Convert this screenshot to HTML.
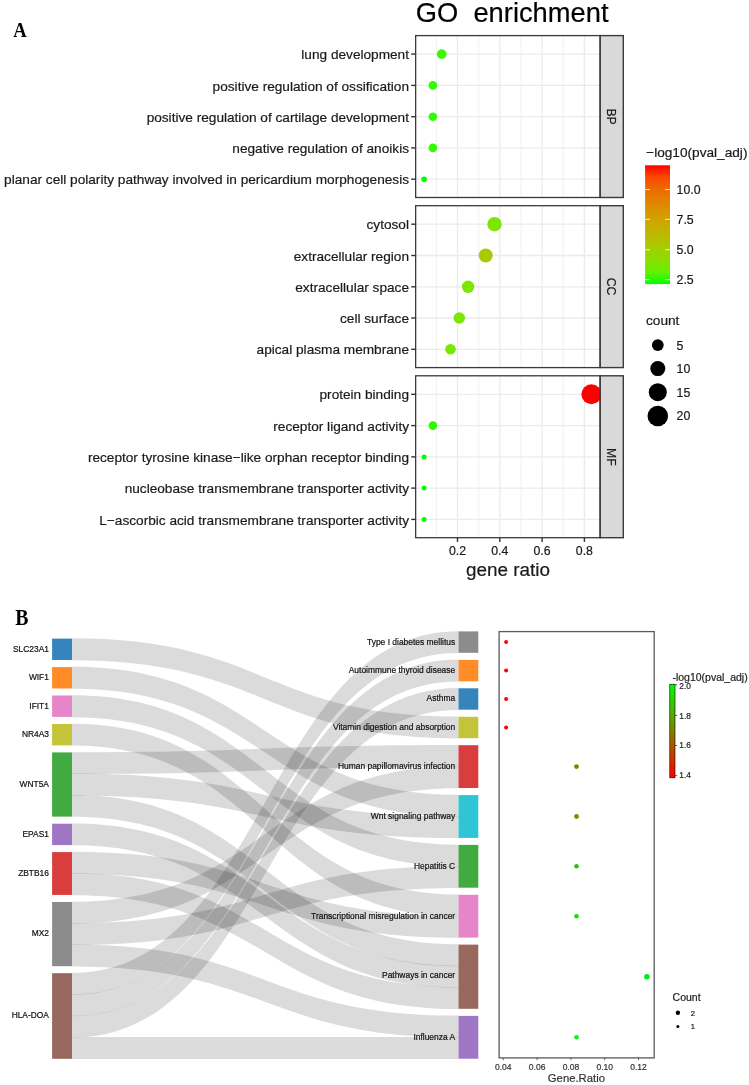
<!DOCTYPE html>
<html lang="en"><head><meta charset="utf-8"><title>GO enrichment</title>
<style>html,body{margin:0;padding:0;background:#fff}body{width:749px;height:1085px;overflow:hidden}svg{display:block}</style>
</head><body>
<svg width="749" height="1085" viewBox="0 0 749 1085" font-family='"Liberation Sans", Arial, sans-serif'>
<rect x="0" y="0" width="749" height="1085" fill="#ffffff"/>
<text transform="translate(20.0,36.8) scale(0.87,1)" text-anchor="middle" font-family='"Liberation Serif", "Times New Roman", serif' font-weight="bold" font-size="21.4" fill="#000" stroke="none">A</text>
<text transform="translate(21.9,624.7) scale(0.89,1)" text-anchor="middle" font-family='"Liberation Serif", "Times New Roman", serif' font-weight="bold" font-size="22.3" fill="#000" stroke="none">B</text>
<text x="415.8" y="22" font-size="27.3" fill="#000" xml:space="preserve" stroke="#000" stroke-width="0.2">GO  enrichment</text>
<g>
<rect x="415.65" y="35.6" width="184.5" height="161.9" fill="#fff"/>
<line x1="436.4" x2="436.4" y1="35.6" y2="197.5" stroke="#ebebeb" stroke-width="0.7"/>
<line x1="478.7" x2="478.7" y1="35.6" y2="197.5" stroke="#ebebeb" stroke-width="0.7"/>
<line x1="521.0" x2="521.0" y1="35.6" y2="197.5" stroke="#ebebeb" stroke-width="0.7"/>
<line x1="563.2" x2="563.2" y1="35.6" y2="197.5" stroke="#ebebeb" stroke-width="0.7"/>
<line x1="457.5" x2="457.5" y1="35.6" y2="197.5" stroke="#ebebeb" stroke-width="1.3"/>
<line x1="499.8" x2="499.8" y1="35.6" y2="197.5" stroke="#ebebeb" stroke-width="1.3"/>
<line x1="542.1" x2="542.1" y1="35.6" y2="197.5" stroke="#ebebeb" stroke-width="1.3"/>
<line x1="584.4" x2="584.4" y1="35.6" y2="197.5" stroke="#ebebeb" stroke-width="1.3"/>
<line x1="415.65" x2="600.1" y1="54.1" y2="54.1" stroke="#ebebeb" stroke-width="1.3"/>
<line x1="415.65" x2="600.1" y1="85.4" y2="85.4" stroke="#ebebeb" stroke-width="1.3"/>
<line x1="415.65" x2="600.1" y1="116.7" y2="116.7" stroke="#ebebeb" stroke-width="1.3"/>
<line x1="415.65" x2="600.1" y1="147.9" y2="147.9" stroke="#ebebeb" stroke-width="1.3"/>
<line x1="415.65" x2="600.1" y1="179.2" y2="179.2" stroke="#ebebeb" stroke-width="1.3"/>
<circle cx="441.7" cy="54.1" r="4.9" fill="#3cf900"/>
<line x1="411.2" x2="415.65" y1="54.1" y2="54.1" stroke="#333" stroke-width="1.4"/>
<text x="409.0" y="59.2" font-size="13.65" text-anchor="end" fill="#1a1a1a" stroke="#1a1a1a" stroke-width="0.2">lung development</text>
<circle cx="432.9" cy="85.4" r="4.3" fill="#33fb00"/>
<line x1="411.2" x2="415.65" y1="85.4" y2="85.4" stroke="#333" stroke-width="1.4"/>
<text x="409.0" y="90.5" font-size="13.65" text-anchor="end" fill="#1a1a1a" stroke="#1a1a1a" stroke-width="0.2">positive regulation of ossification</text>
<circle cx="432.9" cy="116.7" r="4.3" fill="#33fb00"/>
<line x1="411.2" x2="415.65" y1="116.7" y2="116.7" stroke="#333" stroke-width="1.4"/>
<text x="409.0" y="121.8" font-size="13.65" text-anchor="end" fill="#1a1a1a" stroke="#1a1a1a" stroke-width="0.2">positive regulation of cartilage development</text>
<circle cx="432.9" cy="147.9" r="4.3" fill="#33fb00"/>
<line x1="411.2" x2="415.65" y1="147.9" y2="147.9" stroke="#333" stroke-width="1.4"/>
<text x="409.0" y="153.0" font-size="13.65" text-anchor="end" fill="#1a1a1a" stroke="#1a1a1a" stroke-width="0.2">negative regulation of anoikis</text>
<circle cx="424.1" cy="179.2" r="2.8" fill="#00fd00"/>
<line x1="411.2" x2="415.65" y1="179.2" y2="179.2" stroke="#333" stroke-width="1.4"/>
<text x="409.0" y="184.3" font-size="13.65" text-anchor="end" fill="#1a1a1a" stroke="#1a1a1a" stroke-width="0.2">planar cell polarity pathway involved in pericardium morphogenesis</text>
<rect x="600.1" y="35.6" width="23.2" height="161.9" fill="#d9d9d9" stroke="#3a3a3a" stroke-width="1.4"/>
<rect x="415.65" y="35.6" width="184.5" height="161.9" fill="none" stroke="#3a3a3a" stroke-width="1.3"/>
<text transform="translate(607.2,116.6) rotate(90)" font-size="12.3" text-anchor="middle" fill="#1a1a1a" stroke="#1a1a1a" stroke-width="0.2">BP</text>
</g>
<g>
<rect x="415.65" y="205.7" width="184.5" height="161.9" fill="#fff"/>
<line x1="436.4" x2="436.4" y1="205.7" y2="367.6" stroke="#ebebeb" stroke-width="0.7"/>
<line x1="478.7" x2="478.7" y1="205.7" y2="367.6" stroke="#ebebeb" stroke-width="0.7"/>
<line x1="521.0" x2="521.0" y1="205.7" y2="367.6" stroke="#ebebeb" stroke-width="0.7"/>
<line x1="563.2" x2="563.2" y1="205.7" y2="367.6" stroke="#ebebeb" stroke-width="0.7"/>
<line x1="457.5" x2="457.5" y1="205.7" y2="367.6" stroke="#ebebeb" stroke-width="1.3"/>
<line x1="499.8" x2="499.8" y1="205.7" y2="367.6" stroke="#ebebeb" stroke-width="1.3"/>
<line x1="542.1" x2="542.1" y1="205.7" y2="367.6" stroke="#ebebeb" stroke-width="1.3"/>
<line x1="584.4" x2="584.4" y1="205.7" y2="367.6" stroke="#ebebeb" stroke-width="1.3"/>
<line x1="415.65" x2="600.1" y1="224.2" y2="224.2" stroke="#ebebeb" stroke-width="1.3"/>
<line x1="415.65" x2="600.1" y1="255.5" y2="255.5" stroke="#ebebeb" stroke-width="1.3"/>
<line x1="415.65" x2="600.1" y1="286.8" y2="286.8" stroke="#ebebeb" stroke-width="1.3"/>
<line x1="415.65" x2="600.1" y1="318.0" y2="318.0" stroke="#ebebeb" stroke-width="1.3"/>
<line x1="415.65" x2="600.1" y1="349.3" y2="349.3" stroke="#ebebeb" stroke-width="1.3"/>
<circle cx="494.5" cy="224.2" r="7.2" fill="#7de600"/>
<line x1="411.2" x2="415.65" y1="224.2" y2="224.2" stroke="#333" stroke-width="1.4"/>
<text x="409.0" y="229.3" font-size="13.65" text-anchor="end" fill="#1a1a1a" stroke="#1a1a1a" stroke-width="0.2">cytosol</text>
<circle cx="485.7" cy="255.5" r="7.0" fill="#aac900"/>
<line x1="411.2" x2="415.65" y1="255.5" y2="255.5" stroke="#333" stroke-width="1.4"/>
<text x="409.0" y="260.6" font-size="13.65" text-anchor="end" fill="#1a1a1a" stroke="#1a1a1a" stroke-width="0.2">extracellular region</text>
<circle cx="468.1" cy="286.8" r="6.2" fill="#7de600"/>
<line x1="411.2" x2="415.65" y1="286.8" y2="286.8" stroke="#333" stroke-width="1.4"/>
<text x="409.0" y="291.9" font-size="13.65" text-anchor="end" fill="#1a1a1a" stroke="#1a1a1a" stroke-width="0.2">extracellular space</text>
<circle cx="459.3" cy="318.0" r="5.75" fill="#7ae700"/>
<line x1="411.2" x2="415.65" y1="318.0" y2="318.0" stroke="#333" stroke-width="1.4"/>
<text x="409.0" y="323.1" font-size="13.65" text-anchor="end" fill="#1a1a1a" stroke="#1a1a1a" stroke-width="0.2">cell surface</text>
<circle cx="450.5" cy="349.3" r="5.3" fill="#76e900"/>
<line x1="411.2" x2="415.65" y1="349.3" y2="349.3" stroke="#333" stroke-width="1.4"/>
<text x="409.0" y="354.4" font-size="13.65" text-anchor="end" fill="#1a1a1a" stroke="#1a1a1a" stroke-width="0.2">apical plasma membrane</text>
<rect x="600.1" y="205.7" width="23.2" height="161.9" fill="#d9d9d9" stroke="#3a3a3a" stroke-width="1.4"/>
<rect x="415.65" y="205.7" width="184.5" height="161.9" fill="none" stroke="#3a3a3a" stroke-width="1.3"/>
<text transform="translate(607.2,286.6) rotate(90)" font-size="12.3" text-anchor="middle" fill="#1a1a1a" stroke="#1a1a1a" stroke-width="0.2">CC</text>
</g>
<g>
<rect x="415.65" y="375.8" width="184.5" height="161.9" fill="#fff"/>
<line x1="436.4" x2="436.4" y1="375.8" y2="537.7" stroke="#ebebeb" stroke-width="0.7"/>
<line x1="478.7" x2="478.7" y1="375.8" y2="537.7" stroke="#ebebeb" stroke-width="0.7"/>
<line x1="521.0" x2="521.0" y1="375.8" y2="537.7" stroke="#ebebeb" stroke-width="0.7"/>
<line x1="563.2" x2="563.2" y1="375.8" y2="537.7" stroke="#ebebeb" stroke-width="0.7"/>
<line x1="457.5" x2="457.5" y1="375.8" y2="537.7" stroke="#ebebeb" stroke-width="1.3"/>
<line x1="499.8" x2="499.8" y1="375.8" y2="537.7" stroke="#ebebeb" stroke-width="1.3"/>
<line x1="542.1" x2="542.1" y1="375.8" y2="537.7" stroke="#ebebeb" stroke-width="1.3"/>
<line x1="584.4" x2="584.4" y1="375.8" y2="537.7" stroke="#ebebeb" stroke-width="1.3"/>
<line x1="415.65" x2="600.1" y1="394.3" y2="394.3" stroke="#ebebeb" stroke-width="1.3"/>
<line x1="415.65" x2="600.1" y1="425.6" y2="425.6" stroke="#ebebeb" stroke-width="1.3"/>
<line x1="415.65" x2="600.1" y1="456.9" y2="456.9" stroke="#ebebeb" stroke-width="1.3"/>
<line x1="415.65" x2="600.1" y1="488.1" y2="488.1" stroke="#ebebeb" stroke-width="1.3"/>
<line x1="415.65" x2="600.1" y1="519.4" y2="519.4" stroke="#ebebeb" stroke-width="1.3"/>
<circle cx="591.4" cy="394.3" r="10.0" fill="#ff0000"/>
<line x1="411.2" x2="415.65" y1="394.3" y2="394.3" stroke="#333" stroke-width="1.4"/>
<text x="409.0" y="399.4" font-size="13.65" text-anchor="end" fill="#1a1a1a" stroke="#1a1a1a" stroke-width="0.2">protein binding</text>
<circle cx="432.9" cy="425.6" r="4.3" fill="#2afb00"/>
<line x1="411.2" x2="415.65" y1="425.6" y2="425.6" stroke="#333" stroke-width="1.4"/>
<text x="409.0" y="430.7" font-size="13.65" text-anchor="end" fill="#1a1a1a" stroke="#1a1a1a" stroke-width="0.2">receptor ligand activity</text>
<circle cx="424.1" cy="456.9" r="2.5" fill="#00fd00"/>
<line x1="411.2" x2="415.65" y1="456.9" y2="456.9" stroke="#333" stroke-width="1.4"/>
<text x="409.0" y="462.0" font-size="13.65" text-anchor="end" fill="#1a1a1a" stroke="#1a1a1a" stroke-width="0.2">receptor tyrosine kinase−like orphan receptor binding</text>
<circle cx="424.1" cy="488.1" r="2.5" fill="#00fd00"/>
<line x1="411.2" x2="415.65" y1="488.1" y2="488.1" stroke="#333" stroke-width="1.4"/>
<text x="409.0" y="493.2" font-size="13.65" text-anchor="end" fill="#1a1a1a" stroke="#1a1a1a" stroke-width="0.2">nucleobase transmembrane transporter activity</text>
<circle cx="424.1" cy="519.4" r="2.5" fill="#00fd00"/>
<line x1="411.2" x2="415.65" y1="519.4" y2="519.4" stroke="#333" stroke-width="1.4"/>
<text x="409.0" y="524.5" font-size="13.65" text-anchor="end" fill="#1a1a1a" stroke="#1a1a1a" stroke-width="0.2">L−ascorbic acid transmembrane transporter activity</text>
<rect x="600.1" y="375.8" width="23.2" height="161.9" fill="#d9d9d9" stroke="#3a3a3a" stroke-width="1.4"/>
<rect x="415.65" y="375.8" width="184.5" height="161.9" fill="none" stroke="#3a3a3a" stroke-width="1.3"/>
<text transform="translate(607.2,456.8) rotate(90)" font-size="12.3" text-anchor="middle" fill="#1a1a1a" stroke="#1a1a1a" stroke-width="0.2">MF</text>
</g>
<line x1="457.5" x2="457.5" y1="537.7" y2="541.9" stroke="#333" stroke-width="1.4"/>
<text x="457.5" y="555.3" font-size="12.3" text-anchor="middle" fill="#1a1a1a" stroke="#1a1a1a" stroke-width="0.2">0.2</text>
<line x1="499.8" x2="499.8" y1="537.7" y2="541.9" stroke="#333" stroke-width="1.4"/>
<text x="499.8" y="555.3" font-size="12.3" text-anchor="middle" fill="#1a1a1a" stroke="#1a1a1a" stroke-width="0.2">0.4</text>
<line x1="542.1" x2="542.1" y1="537.7" y2="541.9" stroke="#333" stroke-width="1.4"/>
<text x="542.1" y="555.3" font-size="12.3" text-anchor="middle" fill="#1a1a1a" stroke="#1a1a1a" stroke-width="0.2">0.6</text>
<line x1="584.4" x2="584.4" y1="537.7" y2="541.9" stroke="#333" stroke-width="1.4"/>
<text x="584.4" y="555.3" font-size="12.3" text-anchor="middle" fill="#1a1a1a" stroke="#1a1a1a" stroke-width="0.2">0.8</text>
<text x="507.9" y="575.6" font-size="18.9" text-anchor="middle" fill="#1a1a1a" stroke="#1a1a1a" stroke-width="0.2">gene ratio</text>
<defs><linearGradient id="gA" x1="0" y1="0" x2="0" y2="1"><stop offset="0.0" stop-color="#ff0000"/><stop offset="0.1" stop-color="#f74a00"/><stop offset="0.2" stop-color="#ed6a00"/><stop offset="0.3" stop-color="#e38200"/><stop offset="0.4" stop-color="#d79800"/><stop offset="0.5" stop-color="#c9ab00"/><stop offset="0.6" stop-color="#b8bd00"/><stop offset="0.7" stop-color="#a4ce00"/><stop offset="0.8" stop-color="#8adf00"/><stop offset="0.9" stop-color="#65ef00"/><stop offset="1.0" stop-color="#00ff00"/></linearGradient><linearGradient id="gB" x1="0" y1="0" x2="0" y2="1"><stop offset="0" stop-color="#00ff00"/><stop offset="0.5" stop-color="#808000"/><stop offset="1" stop-color="#ff0000"/></linearGradient></defs>
<text x="646.2" y="157.3" font-size="13.65" fill="#1a1a1a" stroke="#1a1a1a" stroke-width="0.2">−log10(pval_adj)</text>
<rect x="645.1" y="165.3" width="24.9" height="118.8" fill="url(#gA)"/>
<line x1="645.1" x2="650.1" y1="189.6" y2="189.6" stroke="#fff" stroke-width="0.8"/>
<line x1="665" x2="670" y1="189.6" y2="189.6" stroke="#fff" stroke-width="0.8"/>
<text x="676.6" y="194.0" font-size="12.3" fill="#1a1a1a" stroke="#1a1a1a" stroke-width="0.2">10.0</text>
<line x1="645.1" x2="650.1" y1="219.4" y2="219.4" stroke="#fff" stroke-width="0.8"/>
<line x1="665" x2="670" y1="219.4" y2="219.4" stroke="#fff" stroke-width="0.8"/>
<text x="676.6" y="223.8" font-size="12.3" fill="#1a1a1a" stroke="#1a1a1a" stroke-width="0.2">7.5</text>
<line x1="645.1" x2="650.1" y1="249.8" y2="249.8" stroke="#fff" stroke-width="0.8"/>
<line x1="665" x2="670" y1="249.8" y2="249.8" stroke="#fff" stroke-width="0.8"/>
<text x="676.6" y="254.2" font-size="12.3" fill="#1a1a1a" stroke="#1a1a1a" stroke-width="0.2">5.0</text>
<line x1="645.1" x2="650.1" y1="279.7" y2="279.7" stroke="#fff" stroke-width="0.8"/>
<line x1="665" x2="670" y1="279.7" y2="279.7" stroke="#fff" stroke-width="0.8"/>
<text x="676.6" y="284.1" font-size="12.3" fill="#1a1a1a" stroke="#1a1a1a" stroke-width="0.2">2.5</text>
<text x="646" y="325.2" font-size="13.65" fill="#1a1a1a" stroke="#1a1a1a" stroke-width="0.2">count</text>
<circle cx="657.8" cy="345.1" r="5.9" fill="#000"/>
<text x="676.6" y="349.5" font-size="12.3" fill="#1a1a1a" stroke="#1a1a1a" stroke-width="0.2">5</text>
<circle cx="657.8" cy="368.6" r="7.5" fill="#000"/>
<text x="676.6" y="373.0" font-size="12.3" fill="#1a1a1a" stroke="#1a1a1a" stroke-width="0.2">10</text>
<circle cx="657.8" cy="392.2" r="9.0" fill="#000"/>
<text x="676.6" y="396.6" font-size="12.3" fill="#1a1a1a" stroke="#1a1a1a" stroke-width="0.2">15</text>
<circle cx="657.8" cy="416.0" r="10.3" fill="#000"/>
<text x="676.6" y="420.4" font-size="12.3" fill="#1a1a1a" stroke="#1a1a1a" stroke-width="0.2">20</text>
<g fill="#000" fill-opacity="0.14">
<path d="M72.0,638.35C265.2,638.35 265.2,716.50 458.5,716.50L458.5,738.40C265.2,738.40 265.2,660.25 72.0,660.25Z"/>
<path d="M72.0,666.80C265.2,666.80 265.2,794.80 458.5,794.80L458.5,816.70C265.2,816.70 265.2,688.70 72.0,688.70Z"/>
<path d="M72.0,695.25C265.2,695.25 265.2,844.65 458.5,844.65L458.5,866.55C265.2,866.55 265.2,717.15 72.0,717.15Z"/>
<path d="M72.0,723.70C265.2,723.70 265.2,894.50 458.5,894.50L458.5,916.40C265.2,916.40 265.2,745.60 72.0,745.60Z"/>
<path d="M72.0,752.15C265.2,752.15 265.2,744.95 458.5,744.95L458.5,766.85C265.2,766.85 265.2,774.05 72.0,774.05Z"/>
<path d="M72.0,773.55C265.2,773.55 265.2,816.20 458.5,816.20L458.5,838.10C265.2,838.10 265.2,795.45 72.0,795.45Z"/>
<path d="M72.0,794.95C265.2,794.95 265.2,944.35 458.5,944.35L458.5,966.25C265.2,966.25 265.2,816.85 72.0,816.85Z"/>
<path d="M72.0,823.40C265.2,823.40 265.2,965.75 458.5,965.75L458.5,987.65C265.2,987.65 265.2,845.30 72.0,845.30Z"/>
<path d="M72.0,851.85C265.2,851.85 265.2,915.90 458.5,915.90L458.5,937.80C265.2,937.80 265.2,873.75 72.0,873.75Z"/>
<path d="M72.0,873.25C265.2,873.25 265.2,987.15 458.5,987.15L458.5,1009.05C265.2,1009.05 265.2,895.15 72.0,895.15Z"/>
<path d="M72.0,901.70C265.2,901.70 265.2,766.35 458.5,766.35L458.5,788.25C265.2,788.25 265.2,923.60 72.0,923.60Z"/>
<path d="M72.0,923.10C265.2,923.10 265.2,866.05 458.5,866.05L458.5,887.95C265.2,887.95 265.2,945.00 72.0,945.00Z"/>
<path d="M72.0,944.50C265.2,944.50 265.2,1015.60 458.5,1015.60L458.5,1037.50C265.2,1037.50 265.2,966.40 72.0,966.40Z"/>
<path d="M72.0,972.95C265.2,972.95 265.2,631.15 458.5,631.15L458.5,653.05C265.2,653.05 265.2,994.85 72.0,994.85Z"/>
<path d="M72.0,994.35C265.2,994.35 265.2,659.60 458.5,659.60L458.5,681.50C265.2,681.50 265.2,1016.25 72.0,1016.25Z"/>
<path d="M72.0,1015.75C265.2,1015.75 265.2,688.05 458.5,688.05L458.5,709.95C265.2,709.95 265.2,1037.65 72.0,1037.65Z"/>
<path d="M72.0,1037.15C265.2,1037.15 265.2,1037.00 458.5,1037.00L458.5,1058.90C265.2,1058.90 265.2,1059.05 72.0,1059.05Z"/>
</g>
<rect x="52.1" y="638.6" width="19.9" height="21.4" fill="#3585bc"/>
<text x="48.9" y="651.6" font-size="8.4" text-anchor="end" fill="#111" stroke="#111" stroke-width="0.2">SLC23A1</text>
<rect x="52.1" y="667.1" width="19.9" height="21.4" fill="#ff8c26"/>
<text x="48.9" y="680.1" font-size="8.4" text-anchor="end" fill="#111" stroke="#111" stroke-width="0.2">WIF1</text>
<rect x="52.1" y="695.5" width="19.9" height="21.4" fill="#e685c8"/>
<text x="48.9" y="708.5" font-size="8.4" text-anchor="end" fill="#111" stroke="#111" stroke-width="0.2">IFIT1</text>
<rect x="52.1" y="724.0" width="19.9" height="21.4" fill="#c3c438"/>
<text x="48.9" y="737.0" font-size="8.4" text-anchor="end" fill="#111" stroke="#111" stroke-width="0.2">NR4A3</text>
<rect x="52.1" y="752.4" width="19.9" height="64.2" fill="#41aa41"/>
<text x="48.9" y="786.8" font-size="8.4" text-anchor="end" fill="#111" stroke="#111" stroke-width="0.2">WNT5A</text>
<rect x="52.1" y="823.7" width="19.9" height="21.4" fill="#9f76c4"/>
<text x="48.9" y="836.7" font-size="8.4" text-anchor="end" fill="#111" stroke="#111" stroke-width="0.2">EPAS1</text>
<rect x="52.1" y="852.1" width="19.9" height="42.8" fill="#da3d3e"/>
<text x="48.9" y="875.8" font-size="8.4" text-anchor="end" fill="#111" stroke="#111" stroke-width="0.2">ZBTB16</text>
<rect x="52.1" y="902.0" width="19.9" height="64.2" fill="#8c8c8c"/>
<text x="48.9" y="936.4" font-size="8.4" text-anchor="end" fill="#111" stroke="#111" stroke-width="0.2">MX2</text>
<rect x="52.1" y="973.2" width="19.9" height="85.6" fill="#98675d"/>
<text x="48.9" y="1018.3" font-size="8.4" text-anchor="end" fill="#111" stroke="#111" stroke-width="0.2">HLA-DOA</text>
<rect x="458.5" y="631.4" width="19.8" height="21.4" fill="#8c8c8c"/>
<text x="455.2" y="644.5" font-size="8.45" text-anchor="end" fill="#111" stroke="#111" stroke-width="0.2">Type I diabetes mellitus</text>
<rect x="458.5" y="659.9" width="19.8" height="21.4" fill="#ff8c26"/>
<text x="455.2" y="673.0" font-size="8.45" text-anchor="end" fill="#111" stroke="#111" stroke-width="0.2">Autoimmune thyroid disease</text>
<rect x="458.5" y="688.3" width="19.8" height="21.4" fill="#3585bc"/>
<text x="455.2" y="701.4" font-size="8.45" text-anchor="end" fill="#111" stroke="#111" stroke-width="0.2">Asthma</text>
<rect x="458.5" y="716.8" width="19.8" height="21.4" fill="#c3c438"/>
<text x="455.2" y="729.9" font-size="8.45" text-anchor="end" fill="#111" stroke="#111" stroke-width="0.2">Vitamin digestion and absorption</text>
<rect x="458.5" y="745.2" width="19.8" height="42.8" fill="#da3d3e"/>
<text x="455.2" y="769.0" font-size="8.45" text-anchor="end" fill="#111" stroke="#111" stroke-width="0.2">Human papillomavirus infection</text>
<rect x="458.5" y="795.1" width="19.8" height="42.8" fill="#2ec5d4"/>
<text x="455.2" y="818.9" font-size="8.45" text-anchor="end" fill="#111" stroke="#111" stroke-width="0.2">Wnt signaling pathway</text>
<rect x="458.5" y="844.9" width="19.8" height="42.8" fill="#41aa41"/>
<text x="455.2" y="868.7" font-size="8.45" text-anchor="end" fill="#111" stroke="#111" stroke-width="0.2">Hepatitis C</text>
<rect x="458.5" y="894.8" width="19.8" height="42.8" fill="#e685c8"/>
<text x="455.2" y="918.6" font-size="8.45" text-anchor="end" fill="#111" stroke="#111" stroke-width="0.2">Transcriptional misregulation in cancer</text>
<rect x="458.5" y="944.6" width="19.8" height="64.2" fill="#98675d"/>
<text x="455.2" y="978.3" font-size="8.45" text-anchor="end" fill="#111" stroke="#111" stroke-width="0.2">Pathways in cancer</text>
<rect x="458.5" y="1015.9" width="19.8" height="42.8" fill="#9f76c4"/>
<text x="455.2" y="1039.7" font-size="8.45" text-anchor="end" fill="#111" stroke="#111" stroke-width="0.2">Influenza A</text>
<rect x="499.1" y="631.6" width="155.1" height="426.3" fill="#fff" stroke="#5a5a5a" stroke-width="1.3"/>
<circle cx="506.1" cy="642.1" r="2.0" fill="#ff0000"/>
<circle cx="506.1" cy="670.6" r="2.0" fill="#ff0000"/>
<circle cx="506.1" cy="699.0" r="2.0" fill="#ff0000"/>
<circle cx="506.1" cy="727.5" r="2.0" fill="#ff0000"/>
<circle cx="576.5" cy="766.6" r="2.4" fill="#837d00"/>
<circle cx="576.5" cy="816.5" r="2.4" fill="#788c08"/>
<circle cx="576.5" cy="866.3" r="2.3" fill="#37b919"/>
<circle cx="576.5" cy="916.2" r="2.3" fill="#1ed719"/>
<circle cx="646.9" cy="976.7" r="2.8" fill="#00f014"/>
<circle cx="576.5" cy="1037.3" r="2.3" fill="#00fa14"/>
<line x1="503.3" x2="503.3" y1="1057.9" y2="1060.2" stroke="#444" stroke-width="0.8"/>
<text x="503.3" y="1069.7" font-size="8.5" text-anchor="middle" fill="#333" stroke="#333" stroke-width="0.2">0.04</text>
<line x1="537.1" x2="537.1" y1="1057.9" y2="1060.2" stroke="#444" stroke-width="0.8"/>
<text x="537.1" y="1069.7" font-size="8.5" text-anchor="middle" fill="#333" stroke="#333" stroke-width="0.2">0.06</text>
<line x1="570.9" x2="570.9" y1="1057.9" y2="1060.2" stroke="#444" stroke-width="0.8"/>
<text x="570.9" y="1069.7" font-size="8.5" text-anchor="middle" fill="#333" stroke="#333" stroke-width="0.2">0.08</text>
<line x1="604.7" x2="604.7" y1="1057.9" y2="1060.2" stroke="#444" stroke-width="0.8"/>
<text x="604.7" y="1069.7" font-size="8.5" text-anchor="middle" fill="#333" stroke="#333" stroke-width="0.2">0.10</text>
<line x1="638.5" x2="638.5" y1="1057.9" y2="1060.2" stroke="#444" stroke-width="0.8"/>
<text x="638.5" y="1069.7" font-size="8.5" text-anchor="middle" fill="#333" stroke="#333" stroke-width="0.2">0.12</text>
<text x="576.4" y="1082.2" font-size="11.3" text-anchor="middle" fill="#333" stroke="#333" stroke-width="0.2">Gene.Ratio</text>
<text x="672.4" y="681.0" font-size="10.5" fill="#222" stroke="#222" stroke-width="0.2">-log10(pval_adj)</text>
<rect x="669.8" y="684.2" width="5.2" height="93.6" fill="url(#gB)" stroke="#000" stroke-width="0.6"/>
<line x1="675" x2="677.2" y1="684.8" y2="684.8" stroke="#000" stroke-width="0.6"/>
<text x="679.3" y="689.2" font-size="8.3" fill="#222" stroke="#222" stroke-width="0.2">2.0</text>
<line x1="675" x2="677.2" y1="715.4" y2="715.4" stroke="#000" stroke-width="0.6"/>
<text x="679.3" y="718.8" font-size="8.3" fill="#222" stroke="#222" stroke-width="0.2">1.8</text>
<line x1="675" x2="677.2" y1="745.5" y2="745.5" stroke="#000" stroke-width="0.6"/>
<text x="679.3" y="748.2" font-size="8.3" fill="#222" stroke="#222" stroke-width="0.2">1.6</text>
<line x1="675" x2="677.2" y1="775.6" y2="775.6" stroke="#000" stroke-width="0.6"/>
<text x="679.3" y="778.4" font-size="8.3" fill="#222" stroke="#222" stroke-width="0.2">1.4</text>
<text x="672.6" y="1001.0" font-size="10.5" fill="#222" stroke="#222" stroke-width="0.2">Count</text>
<circle cx="677.9" cy="1012.8" r="2.2" fill="#000"/><text x="690.8" y="1015.6" font-size="7.6" fill="#222" stroke="#222" stroke-width="0.2">2</text>
<circle cx="677.9" cy="1026.4" r="1.5" fill="#000"/><text x="690.8" y="1029.3" font-size="7.6" fill="#222" stroke="#222" stroke-width="0.2">1</text>
</svg>
</body></html>
